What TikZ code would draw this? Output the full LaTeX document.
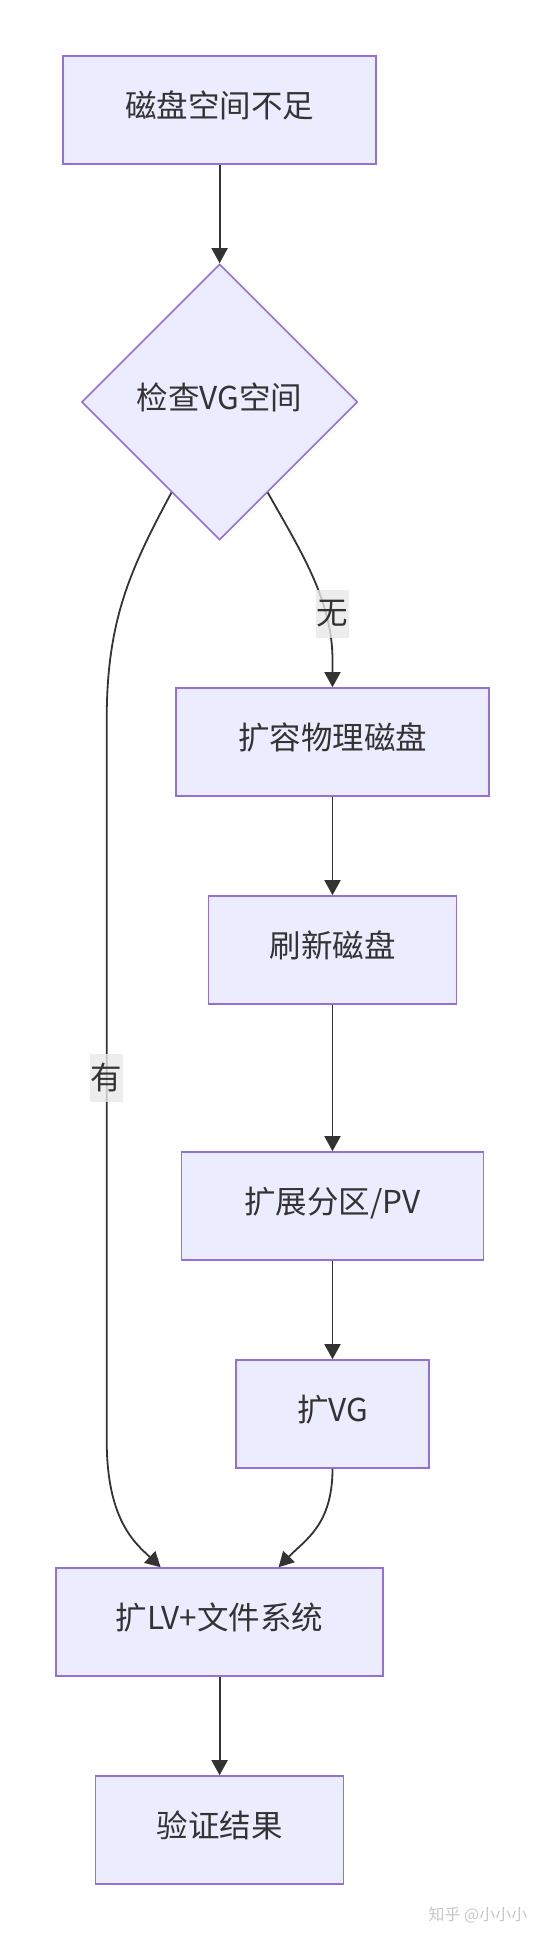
\documentclass[tikz,border=0pt]{standalone}
\usepackage{fontspec}
\setmainfont{Noto Sans CJK SC}
\usepackage{tikz}
\usetikzlibrary{shapes.geometric}
\usetikzlibrary{arrows.meta}
\definecolor{boxfill}{HTML}{ECECFF}
\definecolor{boxline}{HTML}{9370DB}
\definecolor{inkgray}{HTML}{333333}
\definecolor{lblfill}{HTML}{E8E8E8}

\begin{document}
\begin{tikzpicture}[x=1pt,y=-1pt,
		stepbox/.style={draw=boxline, fill=boxfill, line width=1.6pt, minimum height=108pt, inner sep=0pt, text=inkgray, font=\fontsize{31.5}{38}\selectfont},
		checkbox/.style={diamond, draw=boxline, fill=boxfill, line width=1.6pt, minimum width=276pt, minimum height=276pt, inner sep=0pt, text=inkgray, font=\fontsize{31.5}{38}\selectfont},
		flow/.style={draw=inkgray, line width=1.8pt, -{Triangle[length=15pt,width=16pt]}},
		edgelbl/.style={fill=lblfill, fill opacity=0.8, text opacity=1, text=inkgray, minimum width=33pt, minimum height=48pt, inner sep=0pt, font=\fontsize{31.5}{38}\selectfont}]
		\useasboundingbox (0,0) rectangle (544,1940);
		
		\node[stepbox, minimum width=313pt] (lack) at (219.6,110){\begin{tabular}{c}磁盘空间不足\end{tabular}};
		\node[checkbox] (chk) at (219.6,402){\begin{tabular}{c}检查VG空间\end{tabular}};
		
		\node[stepbox, minimum width=313pt] (grow) at (332.5,742){\begin{tabular}{c}扩容物理磁盘\end{tabular}};
		\node[stepbox, minimum width=248pt] (rescan) at (332.5,950){\begin{tabular}{c}刷新磁盘\end{tabular}};
		\node[stepbox, minimum width=302pt] (pv) at (332.5,1206){\begin{tabular}{c}扩展分区/PV\end{tabular}};
		\node[stepbox, minimum width=193pt] (vg) at (332.5,1414){\begin{tabular}{c}扩VG\end{tabular}};
		
		\node[stepbox, minimum width=327pt] (lv) at (219.6,1622){\begin{tabular}{c}扩LV+文件系统\end{tabular}};
		\node[stepbox, minimum width=248pt] (verify) at (219.6,1830){\begin{tabular}{c}验证结果\end{tabular}};
		
		\draw[flow] (lack.south) -- (chk.north);
		\draw[flow] (chk.-62) .. controls (300,550) and (332.5,600) .. (332.5,660) -- (grow.north);
		\draw[flow] (chk.-118) .. controls (130,570) and (106.7,620) .. (106.7,720) -- (106.7,1440) .. controls (106.7,1520) and (135,1543) .. ([xshift=-59pt]lv.north);
		\draw[flow] (grow.south) -- (rescan.north);
		\draw[flow] (rescan.south) -- (pv.north);
		\draw[flow] (pv.south) -- (vg.north);
		\draw[flow] (vg.south) .. controls (332.5,1525) and (305,1540) .. ([xshift=59pt]lv.north);
		\draw[flow] (lv.south) -- (verify.north);
		
		\node[edgelbl] (none) at (332.5,614){无};
		\node[edgelbl] (has) at (106.7,1078){有};
		
		\node[text=black!22, font=\fontsize{16}{19}\selectfont] (mark) at (478,1915){知乎 @小小小};
		
\end{tikzpicture}
\end{document}
